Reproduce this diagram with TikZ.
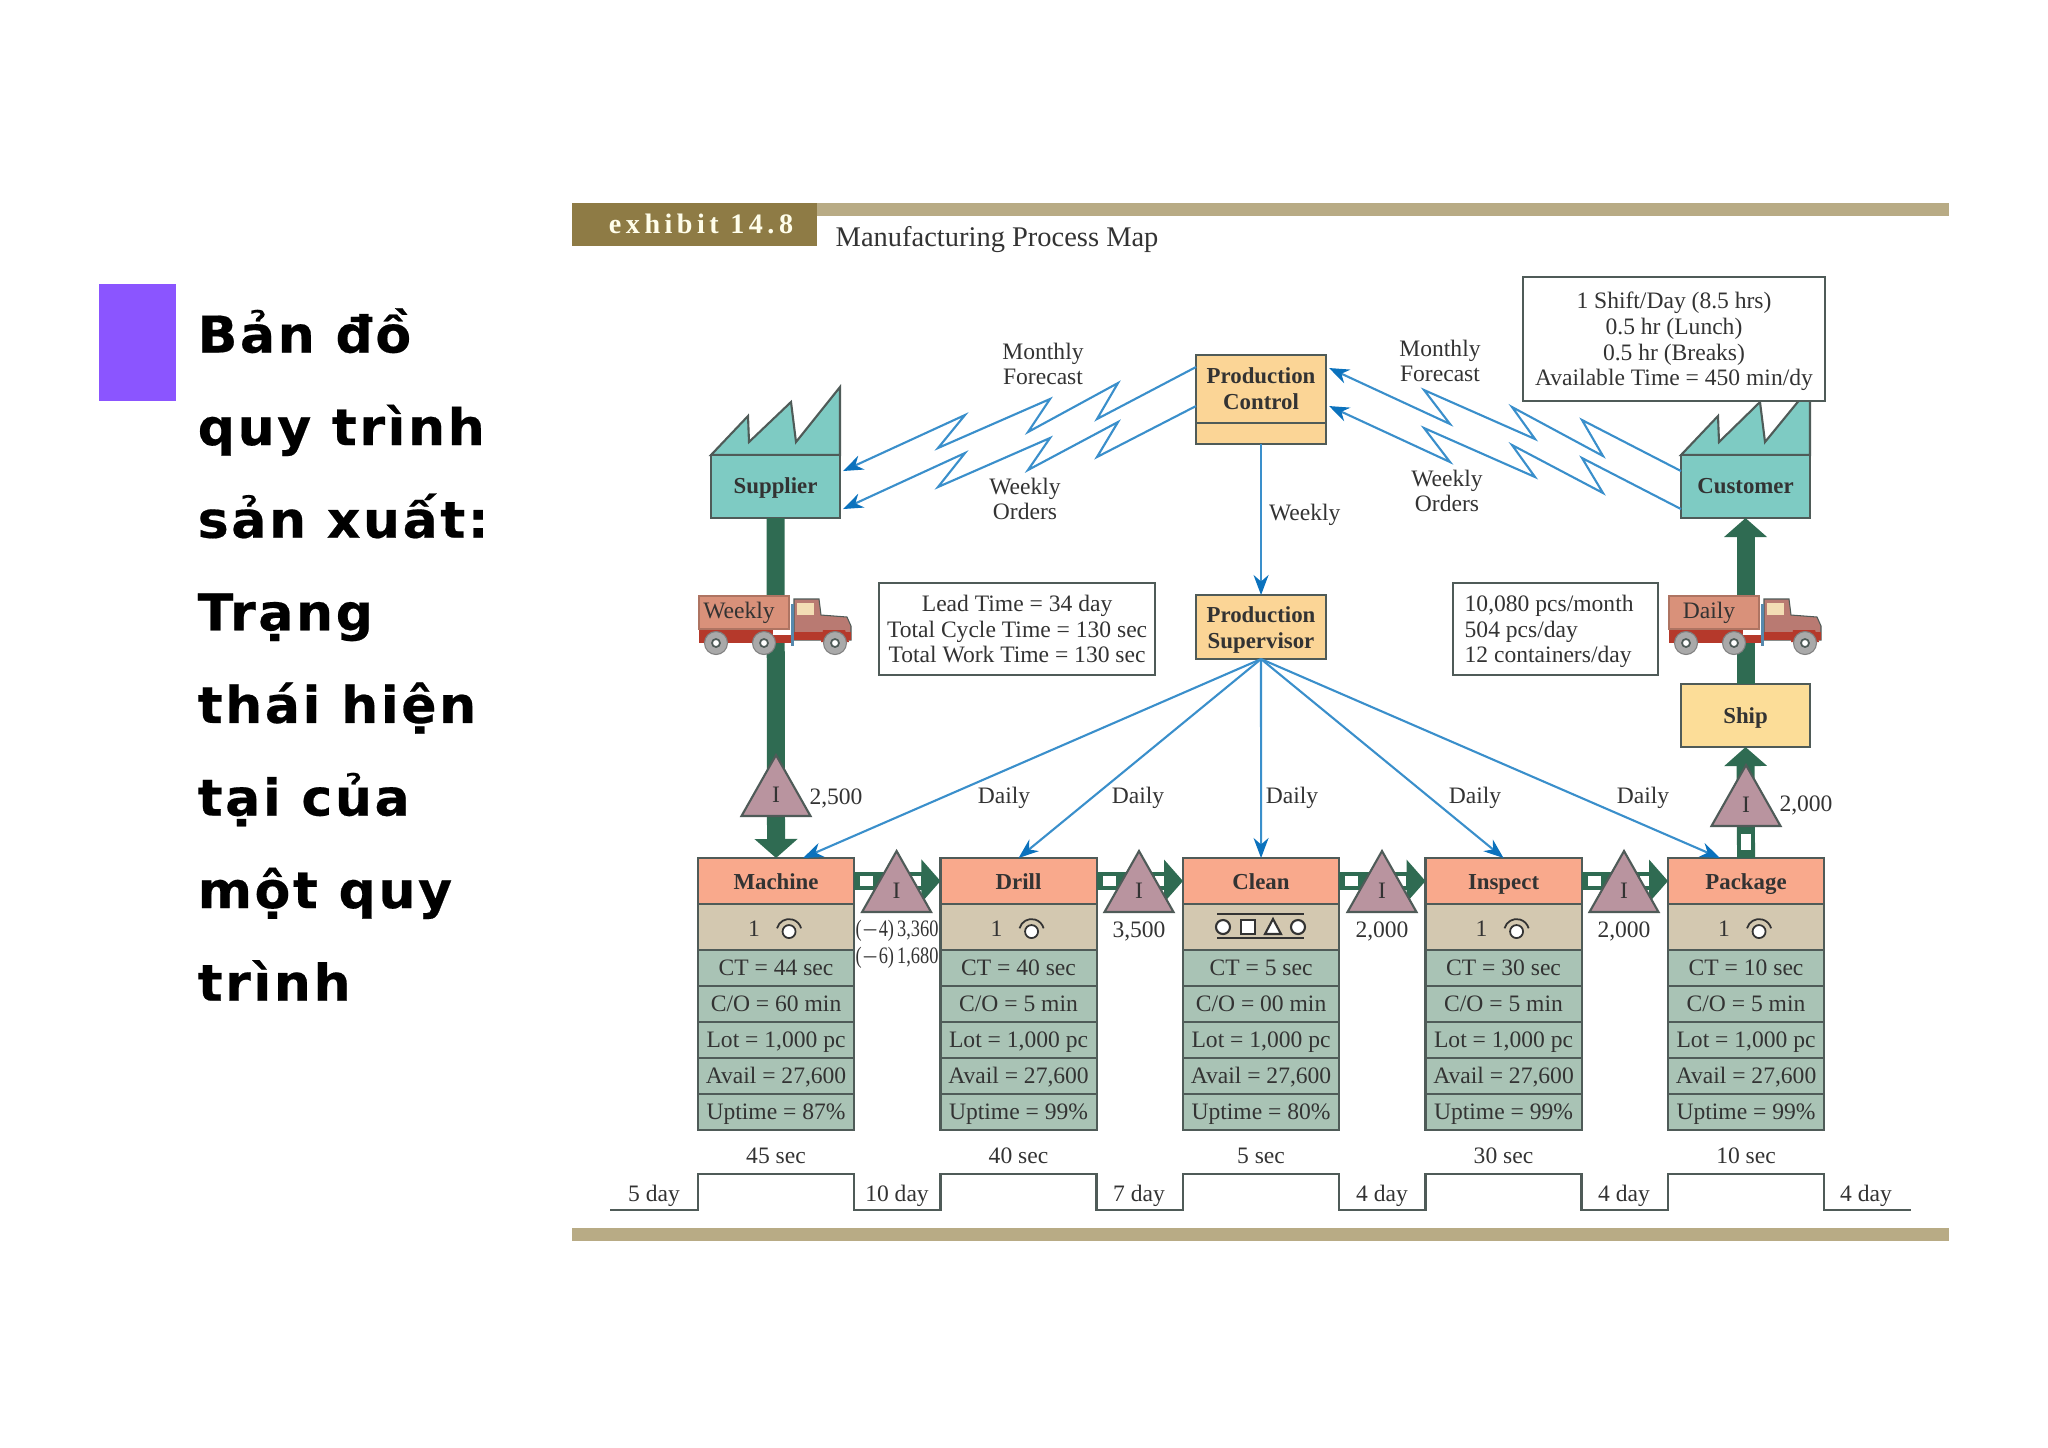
\documentclass[tikz,border=0pt]{standalone}
\usepackage{fontspec}
\setmainfont{Liberation Serif}
\newfontfamily\titlefont{DejaVu Sans}[LetterSpace=5, FakeStretch=1.03, FakeBold=0.4]
\newfontfamily\exhibitfont{Liberation Serif}[LetterSpace=16]
\usetikzlibrary{arrows.meta, positioning}

\definecolor{ink}{HTML}{333333}
\definecolor{edgegray}{HTML}{4F5B58}
\definecolor{barTan}{HTML}{B8AB85}
\definecolor{exhibitTan}{HTML}{8E7B45}
\definecolor{titlePurple}{HTML}{8B55FF}
\definecolor{factoryTeal}{HTML}{7ECBC3}
\definecolor{ctrlYellow}{HTML}{FBD596}
\definecolor{shipYellow}{HTML}{FCDD98}
\definecolor{headSalmon}{HTML}{F9A98C}
\definecolor{opTan}{HTML}{D3C8B0}
\definecolor{dataGreen}{HTML}{A9C3B5}
\definecolor{flowGreen}{HTML}{2F6B52}
\definecolor{invMauve}{HTML}{B9949F}
\definecolor{infoBlue}{HTML}{3A8FCB}
\definecolor{tipBlue}{HTML}{0B72BD}
\definecolor{cargoSalmon}{HTML}{D9917A}
\definecolor{truckRed}{HTML}{B5392B}
\definecolor{cabBrown}{HTML}{B97A72}
\definecolor{cabWindow}{HTML}{F3DDB5}
\definecolor{wheelGray}{HTML}{A9A9A9}

\tikzset{
    boxbase/.style={draw=edgegray, line width=0.6pt, inner sep=0pt, outer sep=0pt, align=center},
    headbox/.style={boxbase, fill=headSalmon, minimum width=1.56cm, minimum height=0.46cm, text height=6.4pt, text depth=1.4pt, font=\fontsize{6.5}{7.3}\selectfont\bfseries},
    opbox/.style={boxbase, fill=opTan, minimum width=1.56cm, minimum height=0.46cm},
    databox/.style={boxbase, fill=dataGreen, minimum width=1.56cm, minimum height=0.36cm, text height=5.8pt, text depth=1.4pt},
    ctrlbox/.style={boxbase, fill=ctrlYellow, minimum width=1.30cm, font=\fontsize{6.5}{7.4}\selectfont\bfseries},
    factorybox/.style={boxbase, fill=factoryTeal, minimum width=1.29cm, minimum height=0.63cm, text height=5.1pt, text depth=1.4pt, font=\fontsize{6.5}{7.4}\selectfont\bfseries},
    infobox/.style={boxbase, fill=white},
    pushflow/.style={draw=flowGreen, line width=0.18cm, -{Triangle[length=0.19cm, width=0.42cm]}},
    infoflow/.style={draw=infoBlue, line width=0.6pt, -{Stealth[length=0.2cm, width=0.15cm, color=tipBlue]}},
    invfill/.style={draw=edgegray, line width=0.6pt, fill=invMauve},
    timeline/.style={draw=edgegray, line width=0.6pt},
}

% inventory triangle: name, x of apex, y of apex
\newcommand{\invtriangle}[3]{%
    \draw[invfill] (#2,#3) -- ++(-34.5,61) -- ++(69,0) -- cycle;
    \node (#1) at (#2,#3+40) {I};
}

% truck: x of left end, name, text on the cargo box
\newcommand{\drawtruck}[3]{%
    \begin{scope}[shift={(#1,596)}]
        \fill[truckRed] (0,33) rectangle (92,47);
        \fill[white] (74,33) rectangle (92,39);
        \filldraw[draw=edgegray, line width=0.3pt, fill=cabBrown] (95,3) -- (120,3) -- (122,19) -- (148,21) -- (152,30) -- (152,44) -- (95,44) -- cycle;
        \fill[cabWindow] (98,7) rectangle (115,19);
        \fill[truckRed] (92,36) rectangle (152,44);
        \fill[truckRed] (122,46) -- (124,34) -- (146,34) -- (150,46) -- cycle;
        \fill[infoBlue!60!gray] (92,8) rectangle (95,50);
        \node[boxbase, draw=cargoSalmon!80!black, fill=cargoSalmon, anchor=north west, minimum width=0.90cm, minimum height=0.33cm] (#2) at (0,0) {};
        \node (#2label) at (40,17) {#3};
        \foreach \wx in {17,65,136} {
            \filldraw[draw=gray, line width=0.3pt, fill=wheelGray] (\wx,47) circle (11.5);
            \filldraw[draw=edgegray, line width=0.5pt, fill=white] (\wx,47) circle (4);
        }
    \end{scope}
}

\begin{document}
\begin{tikzpicture}[x=0.01cm, y=-0.01cm, font=\fontsize{6.7}{7.3}\selectfont, text=ink]
    \useasboundingbox (0,0) rectangle (2048,1447);

    % Slide title
    \fill[titlePurple] (99,284) rectangle (176,401);
    \foreach \txt [count=\k from 0] in {Bản đồ, quy trình, sản xuất:, Trạng, thái hiện, tại của, một quy, trình} {
        \node[anchor=base west, inner sep=0pt, text=black, font=\titlefont\bfseries\fontsize{14.4}{17}\selectfont] (title\k) at (197,352.5+92.6*\k) {\txt};
    }

    % Exhibit bars
    \fill[barTan] (572,203) rectangle (1949,216);
    \fill[barTan] (572,1228) rectangle (1949,1241);
    \fill[exhibitTan] (572,203) rectangle (817,246);
    \node[text=white!92!yellow, font=\exhibitfont\bfseries\fontsize{8}{9}\selectfont] (exhibit) at (701,224) {exhibit 14.8};
    \node[anchor=west, inner sep=0pt, font=\fontsize{8.1}{10}\selectfont] (maptitle) at (835,239.5) {Manufacturing Process Map};

    % Supplier and customer
    \filldraw[draw=edgegray, line width=0.6pt, fill=factoryTeal] (711,455) -- (748,416) -- (749,442) -- (791,402) -- (796,442) -- (840,387) -- (840,455) -- cycle;
    \node[factorybox, anchor=north west] (Supplier) at (711,455) {Supplier};
    \filldraw[draw=edgegray, line width=0.6pt, fill=factoryTeal] (1681,455) -- (1718,416) -- (1719,442) -- (1760,402) -- (1765,442) -- (1810,387) -- (1810,455) -- cycle;
    \node[factorybox, anchor=north west] (Customer) at (1681,455) {Customer};

    % Control boxes
    \node[ctrlbox, anchor=north west, minimum height=0.68cm] (prodctrl) at (1196,355) {Production\\Control};
    \node[ctrlbox, below=0cm of prodctrl, minimum height=0.21cm] (prodctrlbase) {};
    \node[ctrlbox, anchor=north west, minimum height=0.64cm] (prodsup) at (1196,595) {};
    \node[inner sep=0pt, align=center, font=\fontsize{6.5}{7.4}\selectfont\bfseries] (prodsuptxt) at (1261,629.5) {Production\\Supervisor};
    \node[boxbase, fill=shipYellow, anchor=north west, minimum width=1.29cm, minimum height=0.63cm, text height=6pt, text depth=1.4pt, font=\fontsize{6.5}{7.4}\selectfont\bfseries] (Ship) at (1681,684) {Ship};

    % Text boxes
    \node[infobox, anchor=north west, minimum width=2.76cm, minimum height=0.92cm] (leadbox) at (879,583) {Lead Time = 34 day\\Total Cycle Time = 130 sec\\Total Work Time = 130 sec};
    \node[infobox, anchor=north west, minimum width=2.05cm, minimum height=0.92cm] (demandbox) at (1453,583) {};
    \node[anchor=west, align=left, inner sep=0pt] (demandtxt) at (1464,631.5) {10,080 pcs/month\\504 pcs/day\\12 containers/day};
    \node[infobox, anchor=north west, minimum width=3.02cm, minimum height=1.24cm] (shiftbox) at (1523,277) {};
    \node[inner sep=0pt, align=center] (shifttxt) at (1674,341.5) {1 Shift/Day (8.5 hrs)\\0.5 hr (Lunch)\\0.5 hr (Breaks)\\Available Time = 450 min/dy};

    % Process columns
    \foreach \nm/\ct/\co/\up/\tm [count=\i from 0] in {Machine/44/60/87/45, Drill/40/5/99/40, Clean/5/00/80/5, Inspect/30/5/99/30, Package/10/5/99/10} {
        \pgfmathsetmacro{\colx}{698+242.5*\i}
        \node[headbox, anchor=north west] (\nm) at (\colx,858) {\nm};
        \node[opbox, below=0cm of \nm] (\nm op) {};
        \node[databox, below=0cm of \nm op] (\nm ct) {CT = \ct{} sec};
        \node[databox, below=0cm of \nm ct] (\nm co) {C/O = \co{} min};
        \node[databox, below=0cm of \nm co] (\nm lot) {Lot = 1,000 pc};
        \node[databox, below=0cm of \nm lot] (\nm avail) {Avail = 27,600};
        \node[databox, below=0cm of \nm avail] (\nm up) {Uptime = \up\%};
        \node (\nm time) at (\colx+78,1156) {\tm{} sec};
    }

    % Operator symbols
    \foreach \nm in {Machine,Drill,Inspect,Package} {
        \node[xshift=-0.22cm, yshift=-0.015cm] (\nm one) at (\nm op) {1};
        \node[circle, draw=ink, line width=0.5pt, fill=white, inner sep=0pt, minimum size=0.13cm, xshift=0.13cm, yshift=-0.045cm] (\nm icon) at (\nm op) {};
        \draw[ink, line width=0.5pt] (\nm icon) ++(-165:12.5) arc[start angle=-165, end angle=-15, radius=12.5];
    }

    % Symbols of the clean cell
    \draw[ink, line width=0.5pt] (1217,914) -- (1304,914) (1217,938) -- (1304,938);
    \draw[ink, line width=0.6pt, fill=white] (1223,927) circle (7) (1298,927) circle (7);
    \draw[ink, line width=0.6pt, fill=white] (1241,920) rectangle (1255,934);
    \draw[ink, line width=0.6pt, fill=white] (1273,919) -- (1281,934) -- (1265,934) -- cycle;

    % Time line
    \draw[timeline] (610,1210) \foreach \i in {0,...,4} { -- ({698+242.5*\i},1210) -- ({698+242.5*\i},1174) -- ({854+242.5*\i},1174) -- ({854+242.5*\i},1210) } -- (1911,1210);
    \foreach \txt/\tx [count=\k] in {5 day/654, 10 day/897, 7 day/1139, 4 day/1382, 4 day/1624, 4 day/1866} {
        \node (gap\k) at (\tx,1196) {\txt};
    }

    % Material flow
    \draw[pushflow] (Supplier.south) -- (Machine.north);
    \draw[pushflow] (Ship.north) -- (Customer.south);
    \draw[pushflow] (Package.north) -- (Ship.south);
    \fill[white] (1741,834) rectangle (1751,850);
    \foreach \src/\dst in {Machine/Drill, Drill/Clean, Clean/Inspect, Inspect/Package} {
        \draw[pushflow] (\src.east) -- (\dst.west);
        \fill[white] ([xshift=0.06cm]\src.east) ++(0,-5) rectangle ++(13,10);
        \fill[white] ([xshift=0.58cm]\src.east) ++(0,-5) rectangle ++(9,10);
    }

    % Inventory
    \invtriangle{invSupplier}{776}{755}
    \node (invSupplierQty) at (836,798) {2,500};
    \invtriangle{invDrill}{896.6}{851}
    \node[inner sep=0pt] (invDrillA) at (897,931) {\scalebox{0.78}[1]{($-$4)\,3,360}};
    \node[inner sep=0pt] (invDrillB) at (897,958) {\scalebox{0.78}[1]{($-$6)\,1,680}};
    \invtriangle{invClean}{1139}{851}
    \node (invCleanQty) at (1139,931) {3,500};
    \invtriangle{invInspect}{1382}{851}
    \node (invInspectQty) at (1382,931) {2,000};
    \invtriangle{invPackage}{1624}{851}
    \node (invPackageQty) at (1624,931) {2,000};
    \invtriangle{invShip}{1746}{765}
    \node (invShipQty) at (1806,805) {2,000};

    % Trucks
    \drawtruck{699}{weeklytruck}{Weekly}
    \drawtruck{1669}{dailytruck}{Daily}

    % Information flow
    \draw[infoflow] (prodctrlbase.south) -- node[pos=0.47, right=0.07cm, inner sep=0pt] (weeklylbl) {Weekly} (prodsup.north);
    \draw[infoflow] (prodsup.south) -- ([xshift=0.27cm]Machine.north);
    \draw[infoflow] (prodsup.south) -- (Drill.north);
    \draw[infoflow] (prodsup.south) -- (Clean.north);
    \draw[infoflow] (prodsup.south) -- (Inspect.north);
    \draw[infoflow] (prodsup.south) -- ([xshift=-0.26cm]Package.north);
    \foreach \tx [count=\k] in {1004,1138,1292,1475,1643} {
        \node (daily\k) at (\tx,798) {Daily};
    }

    % Electronic links
    \draw[infoflow] ([yshift=0.22cm]prodctrl.west) -- (1097,419) -- (1118,383) -- (1028,432) -- (1050,399) -- (938,448) -- (965,415) -- ([yshift=0.155cm, xshift=0.03cm]Supplier.east);
    \draw[infoflow] ([yshift=-0.17cm]prodctrl.west) -- (1097,457) -- (1118,422) -- (1028,470) -- (1050,438) -- (938,487) -- (965,453) -- ([yshift=-0.225cm, xshift=0.03cm]Supplier.east);
    \draw[infoflow] ([yshift=0.155cm]Customer.west) -- (1582,420) -- (1603,456) -- (1512,407) -- (1535,439) -- (1424,390) -- (1450,424) -- ([yshift=0.21cm, xshift=0.03cm]prodctrl.east);
    \draw[infoflow] ([yshift=-0.225cm]Customer.west) -- (1582,458) -- (1603,493) -- (1512,445) -- (1535,477) -- (1424,428) -- (1450,462) -- ([yshift=-0.17cm, xshift=0.03cm]prodctrl.east);

    % Link labels
    \node[align=center] (forecastL) at (1043,364) {Monthly\\Forecast};
    \node[align=center] (ordersL) at (1025,499) {Weekly\\Orders};
    \node[align=center] (forecastR) at (1440,361) {Monthly\\Forecast};
    \node[align=center] (ordersR) at (1447,491) {Weekly\\Orders};
\end{tikzpicture}
\end{document}
